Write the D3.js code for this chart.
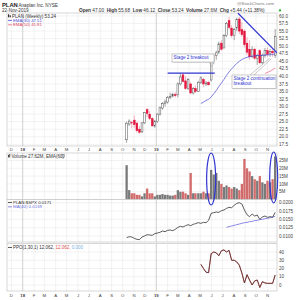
<!DOCTYPE html>
<html><head><meta charset="utf-8">
<script src="https://cdn.jsdelivr.net/npm/d3@7"></script>
<style>body{margin:0;background:#fff}svg{display:block;font-family:"Liberation Sans",Arial,sans-serif}</style>
</head><body><svg id="c" width="300" height="300"></svg>
<script>
// ---------- DATA ----------
const weekDates = ["2018-10-12","2018-10-19","2018-10-26","2018-11-02","2018-11-09","2018-11-16","2018-11-23","2018-11-30","2018-12-07","2018-12-14","2018-12-21","2018-12-28","2019-01-04","2019-01-11","2019-01-18","2019-01-25","2019-02-01","2019-02-08","2019-02-15","2019-02-22","2019-03-01","2019-03-08","2019-03-15","2019-03-22","2019-03-29","2019-04-05","2019-04-12","2019-04-18","2019-04-26","2019-05-03","2019-05-10","2019-05-17","2019-05-24","2019-05-31","2019-06-07","2019-06-14","2019-06-21","2019-06-28","2019-07-05","2019-07-12","2019-07-19","2019-07-26","2019-08-02","2019-08-09","2019-08-16","2019-08-23","2019-08-30","2019-09-06","2019-09-13","2019-09-20","2019-09-27","2019-10-04","2019-10-11","2019-10-18","2019-10-25","2019-11-01","2019-11-08","2019-11-15","2019-11-22"];
const opens  = [19.0,24.2,24.5,25.5,24.5,22.5,21.6,24.6,29.0,27.5,26.0,23.5,25.0,27.5,29.5,31.0,31.5,33.2,33.5,34.0,34.0,37.5,40.5,38.5,36.0,37.5,34.5,36.0,35.0,38.0,39.0,37.5,38.0,38.8,45.0,47.0,48.0,51.0,49.5,53.5,58.5,56.0,53.5,56.0,59.0,55.5,55.0,51.0,49.0,46.5,49.0,46.0,48.5,44.5,47.0,48.5,47.5,48.3,47.00];
const highs  = [25.0,25.8,25.2,27.0,25.0,23.5,24.8,28.2,29.5,28.5,26.5,25.5,27.8,30.0,31.5,32.3,33.5,34.6,34.6,34.8,38.0,41.0,41.2,40.0,39.5,38.0,36.5,37.0,38.5,40.0,39.5,38.5,38.5,45.5,47.5,48.5,51.5,52.0,54.0,58.0,59.7,57.0,56.0,59.5,59.7,58.0,55.5,53.0,52.0,50.0,49.5,47.5,49.0,47.5,49.4,49.5,49.0,49.0,55.68];
const lows   = [18.0,23.6,22.8,23.0,21.4,21.0,21.2,24.2,26.5,25.5,23.4,23.0,24.5,27.0,29.0,30.0,31.0,32.5,33.0,33.0,33.0,37.0,38.0,35.5,35.5,34.0,34.0,34.5,34.8,37.5,36.5,36.8,37.0,38.3,44.0,45.5,47.5,48.5,49.0,53.0,55.5,52.8,52.0,55.0,54.0,53.0,49.5,47.0,45.5,46.0,45.5,43.8,44.0,44.0,46.2,46.5,46.5,46.5,46.12];
const closes = [24.5,25.2,24.8,24.0,22.0,21.5,24.6,28.0,27.7,26.0,23.6,25.2,27.5,29.6,31.0,31.5,33.0,33.3,34.0,33.6,37.5,39.8,38.3,36.0,39.0,34.5,36.0,35.0,38.0,39.5,37.5,37.8,37.2,44.8,47.0,47.8,50.8,49.0,53.5,57.5,56.2,53.5,55.5,58.8,55.0,53.8,50.5,48.0,46.5,49.0,46.0,47.0,44.5,47.0,48.5,47.3,48.3,47.8,53.24];
const volumes = [22,6,4,4,3,3,2,4,7,4,4,2,3,3,3.5,3,3,2.5,2.5,3,6,5,5,4,3,17,4,4,4,4,5,4,4,19,16,17,12,10,8,9,8,7,8,7,6,10,26,20,18,15,13,12,15,11,10,12,11,13,27.62];
const ema30 = [null,null,null,null,null,null,null,null,null,null,null,null,null,null,null,null,null,null,null,null,null,null,null,null,null,null,null,null,null,31.0,31.5,32.0,32.4,33.2,34.2,35.3,36.6,37.8,39.0,40.3,41.5,42.5,43.4,44.3,45.0,45.6,46.0,46.3,46.5,46.7,46.8,46.9,46.9,47.0,47.1,47.1,47.2,47.2,47.51];
const ema50 = [null,null,null,null,null,null,null,null,null,null,null,null,null,null,null,null,null,null,null,null,null,null,null,null,null,null,null,null,null,null,null,null,null,null,null,null,null,null,null,null,null,null,null,null,null,null,null,null,null,null,null,null,null,null,41.0,41.3,41.7,42.2,42.8];
const rsValues = [0.0095,0.0098,0.0097,0.0093,0.0090,0.0089,0.0097,0.0100,0.0104,0.0103,0.0102,0.0107,0.0109,0.0111,0.0115,0.0113,0.0117,0.0118,0.0116,0.0120,0.0126,0.0129,0.0127,0.0131,0.0134,0.0131,0.0135,0.0137,0.0140,0.0138,0.0141,0.0140,0.0147,0.0168,0.0170,0.0172,0.0171,0.0176,0.0178,0.0183,0.0186,0.0185,0.0192,0.0198,0.0200,0.0196,0.0178,0.0164,0.0158,0.0166,0.0160,0.0163,0.0150,0.0157,0.0160,0.0156,0.0158,0.0156,0.0171];
const rsMA40 = [null,null,null,null,null,null,null,null,null,null,null,null,null,null,null,null,null,null,null,null,null,null,null,null,null,null,null,null,null,null,null,null,null,null,null,null,null,null,null,0.0126,0.0128,0.0130,0.0132,0.0134,0.0136,0.0138,0.0140,0.0141,0.0143,0.0144,0.0146,0.0147,0.0149,0.0150,0.0152,0.0153,0.0155,0.0157,0.0159];
const ppoValues = [null,null,null,null,null,null,null,null,null,null,null,null,null,null,null,null,null,null,null,null,null,null,null,null,null,null,null,null,null,25,20,15.5,15,38,40,39,35.5,41.5,42.5,40,42,30,30,28,24,14.5,2.5,12.5,6,0,5,6,-3,4,2.5,2,2,2,12.062];
const monthStarts = ["2017-12-01","2018-01-01","2018-02-01","2018-03-01","2018-04-01","2018-05-01","2018-06-01","2018-07-01","2018-08-01","2018-09-01","2018-10-01","2018-11-01","2018-12-01","2019-01-01","2019-02-01","2019-03-01","2019-04-01","2019-05-01","2019-06-01","2019-07-01","2019-08-01","2019-09-01","2019-10-01","2019-11-01"];
const monthLabels = ["D","18","F","M","A","M","J","J","A","S","O","N","D","19","F","M","A","M","J","J","A","S","O","N"];
const priceTicks = [17.5,20.0,22.5,25.0,27.5,30.0,32.5,35.0,37.5,40.0,42.5,45.0,47.5,50.0,52.5,55.0,57.5,60.0];
const volTicks = [5,10,15,20,25];
const volTickLabels = ["5M","10M","15M","20M","25M"];
const rsTicks = [0.0100,0.0125,0.0150,0.0175,0.0200];
const ppoTicks = [0,10,20,30,40];
const breakoutLine = {from:"2019-02-01", to:"2019-06-10", price:41.1};
const trendLine = {from:"2019-08-12", p1:61.0, to:"2019-11-27", p2:47.8};

// ---------- SETUP ----------
const parse = d3.timeParse("%Y-%m-%d");
const dates = weekDates.map(parse);
const svg = d3.select("#c");
const L = 7, R = 277;
const x = d3.scaleTime().domain([parse("2017-11-19"), parse("2019-11-27")]).range([L, R]);
const P = {top:13, bot:146}, V = {top:153, bot:199.5}, S = {top:199.5, bot:242}, Q = {top:243.5, bot:291};
const yP = d3.scaleLinear().domain([17.5,60]).range([144.3,16]);
const yV = d3.scaleLinear().domain([0,25]).range([199.5,160.5]);
const yS = d3.scaleLinear().domain([0.0100,0.0200]).range([236,202.7]);
const yQ = d3.scaleLinear().domain([0,40]).range([285,252]);
const FS = 4.6;
const blue = "#2f35d0", red = "#e3173e", gridC = "#e9e9e9";

function panel(p, ticks, yScale, fmt) {
  const g = svg.append("g");
  g.append("rect").attr("x",L).attr("y",p.top).attr("width",R-L).attr("height",p.bot-p.top).attr("fill","#fff");
  ticks.forEach(t => {
    const yy = yScale(t);
    if (yy > p.top && yy < p.bot) g.append("line").attr("x1",L).attr("x2",R).attr("y1",yy).attr("y2",yy).attr("stroke",gridC).attr("stroke-width",0.6);
  });
  monthStarts.forEach((m,i) => {
    const xx = x(parse(m));
    const isJan = monthLabels[i].length > 1;
    g.append("line").attr("x1",xx).attr("x2",xx).attr("y1",p.top).attr("y2",p.bot).attr("stroke",isJan?"#c9c9c9":gridC).attr("stroke-width",isJan?0.9:0.6);
  });
  g.append("rect").attr("x",L).attr("y",p.top).attr("width",R-L).attr("height",p.bot-p.top).attr("fill","none").attr("stroke","#bdbdbd").attr("stroke-width",0.6);
  ticks.forEach((t,i) => {
    const yy = yScale(t);
    if (yy > p.top - 1 && yy < p.bot + 1)
      svg.append("text").attr("x",R+2).attr("y",yy).attr("dy","0.35em").attr("font-size",FS).attr("fill","#444").text(fmt(t,i));
  });
  return g;
}

const defs = svg.append("defs");
[["cp",P],["cv",V],["cs",S],["cq",Q]].forEach(([id,p]) => {
  defs.append("clipPath").attr("id",id).append("rect").attr("x",L).attr("y",p.top).attr("width",R-L).attr("height",p.bot-p.top);
});

// ---------- HEADER ----------
svg.append("text").attr("x",2).attr("y",6.5).attr("font-size",5.8).attr("font-weight","bold").attr("fill","#222").text("PLAN");
svg.append("text").attr("x",18.5).attr("y",6.5).attr("font-size",4.6).attr("fill","#333").text("Anaplan Inc.  NYSE");
svg.append("text").attr("x",2).attr("y",11.6).attr("font-size",4.6).attr("fill","#333").text("22-Nov-2019");
svg.append("text").attr("x",237).attr("y",4.6).attr("font-size",4.3).attr("fill","#777").text("@StockCharts.com");
const hdr = svg.append("text").attr("x",79).attr("y",11.6).attr("font-size",4.7).attr("fill","#333");
[["Open",true],[" 47.00  ",false],["High",true],[" 55.68  ",false],["Low",true],[" 46.12  ",false],["Close",true],[" 53.24  ",false],["Volume",true],[" 27.6M  ",false],["Chg",true],[" +5.44 (+11.38%)",false]].forEach(([t,b]) => {
  hdr.append("tspan").attr("font-weight",b?"bold":"normal").attr("xml:space","preserve").text(t);
});
svg.append("path").attr("d","M278.5,11.2 l1.5,-2.6 l1.5,2.6 z").attr("fill","#2a2");

// ---------- PRICE PANEL ----------
panel(P, priceTicks, yP, t => t.toFixed(1));
const gp = svg.append("g").attr("clip-path","url(#cp)");
const cw = 1.8;
dates.forEach((d,i) => {
  const up = i === 0 ? true : closes[i] >= closes[i-1];
  const col = up ? "#555" : red;
  const cx = x(d);
  gp.append("line").attr("x1",cx).attr("x2",cx).attr("y1",yP(highs[i])).attr("y2",yP(lows[i])).attr("stroke",up?"#666":"#f07a94").attr("stroke-width",0.6);
  const top = yP(Math.max(opens[i],closes[i])), bot = yP(Math.min(opens[i],closes[i]));
  const hollow = closes[i] >= opens[i];
  gp.append("rect").attr("x",cx-cw/2).attr("y",top).attr("width",cw).attr("height",Math.max(0.6,bot-top))
    .attr("fill",hollow?"#fff":col).attr("stroke",col).attr("stroke-width",0.5);
});
gp.append("path").attr("d",d3.line().defined(v=>v!=null).x((v,i)=>x(dates[i])).y(v=>yP(v))(ema30)).attr("fill","none").attr("stroke","#4a4ad8").attr("stroke-width",0.7);
gp.append("path").attr("d",d3.line().defined(v=>v!=null).x((v,i)=>x(dates[i])).y(v=>yP(v))(ema50)).attr("fill","none").attr("stroke","#f06080").attr("stroke-width",0.7);
gp.append("line").attr("x1",x(parse(breakoutLine.from))).attr("x2",x(parse(breakoutLine.to))).attr("y1",yP(breakoutLine.price)).attr("y2",yP(breakoutLine.price)).attr("stroke",blue).attr("stroke-width",1.2);
gp.append("line").attr("x1",x(parse(trendLine.from))).attr("y1",yP(trendLine.p1)).attr("x2",x(parse(trendLine.to))).attr("y2",yP(trendLine.p2)).attr("stroke",blue).attr("stroke-width",1.2);
function box(x0,y0,w,h,lines){
  svg.append("rect").attr("x",x0+0.8).attr("y",y0+0.8).attr("width",w).attr("height",h).attr("fill","#ddd");
  svg.append("rect").attr("x",x0).attr("y",y0).attr("width",w).attr("height",h).attr("fill","#fff").attr("stroke","#999").attr("stroke-width",0.5);
  lines.forEach((t,i)=>svg.append("text").attr("x",x0+1.5).attr("y",y0+5+i*5).attr("font-size",4.6).attr("fill",blue).text(t));
}
svg.append("line").attr("x1",209).attr("y1",62).attr("x2",212).attr("y2",67).attr("stroke","#999").attr("stroke-width",0.5);
svg.append("line").attr("x1",250).attr("y1",75).attr("x2",270).attr("y2",58).attr("stroke","#999").attr("stroke-width",0.5);
svg.append("line").attr("x1",254).attr("y1",75).attr("x2",271).attr("y2",59).attr("stroke","#999").attr("stroke-width",0.5);
box(172,54,42,8,["Stage 2 breakout"]);
box(232,75,44,13.5,["Stage 2 continuation","breakout"]);
svg.append("rect").attr("x",8).attr("y",14.3).attr("width",1.2).attr("height",3).attr("fill","#333");
svg.append("rect").attr("x",9.6).attr("y",15.3).attr("width",1.2).attr("height",2).attr("fill","#333");
svg.append("text").attr("x",12).attr("y",17.6).attr("font-size",4.6).attr("fill","#333").text("PLAN (Weekly) 53.24");
svg.append("line").attr("x1",8).attr("x2",12).attr("y1",20.4).attr("y2",20.4).attr("stroke","#4a4ad8").attr("stroke-width",0.8);
svg.append("text").attr("x",13).attr("y",22).attr("font-size",4.3).attr("fill","#4a4ad8").text("EMA(30) 47.51");
svg.append("line").attr("x1",8).attr("x2",12).attr("y1",24.8).attr("y2",24.8).attr("stroke","#f06080").attr("stroke-width",0.8);
svg.append("text").attr("x",13).attr("y",26.4).attr("font-size",4.3).attr("fill","#e04060").text("EMA(50) 45.81");

function xLabels(yy){
  monthStarts.forEach((m,i)=>{
    const isJan = monthLabels[i].length>1;
    svg.append("text").attr("x",x(parse(m))).attr("y",yy).attr("text-anchor","middle").attr("font-size",4.3).attr("font-weight",isJan?"bold":"normal").attr("fill","#444").text(monthLabels[i]);
  });
}
xLabels(151);

// ---------- VOLUME ----------
panel(V, volTicks, yV, (t,i) => volTickLabels[i]);
const gv = svg.append("g").attr("clip-path","url(#cv)");
dates.forEach((d,i)=>{
  const up = i===0 ? true : closes[i] >= closes[i-1];
  gv.append("rect").attr("x",x(d)-1.15).attr("y",yV(volumes[i])).attr("width",2.3).attr("height",yV(0)-yV(volumes[i])).attr("fill",up?"#7a7a7a":"#d26b6b");
});
svg.append("rect").attr("x",8).attr("y",154.8).attr("width",0.9).attr("height",2.6).attr("fill","#333");
svg.append("rect").attr("x",9.3).attr("y",154).attr("width",0.9).attr("height",3.4).attr("fill","#333");
svg.append("text").attr("x",11.5).attr("y",157.5).attr("font-size",4.6).attr("fill","#333").text("Volume 27.62M, EMA(60)");
svg.append("rect").attr("x",62).attr("y",154.6).attr("width",2.6).attr("height",2.6).attr("fill","none").attr("stroke","#555").attr("stroke-width",0.4);

// ---------- RS ----------
panel(S, rsTicks, yS, t => t.toFixed(4));
const gs = svg.append("g").attr("clip-path","url(#cs)");
gs.append("path").attr("d",d3.line().defined(v=>v!=null).x((v,i)=>x(dates[i])).y(v=>yS(v))(rsMA40)).attr("fill","none").attr("stroke","#6c6ce0").attr("stroke-width",0.8);
gs.append("path").attr("d",d3.line().x((v,i)=>x(dates[i])).y(v=>yS(v))(rsValues)).attr("fill","none").attr("stroke","#333").attr("stroke-width",0.8);
svg.append("line").attr("x1",8).attr("x2",12).attr("y1",202.5).attr("y2",202.5).attr("stroke","#333").attr("stroke-width",0.8);
svg.append("text").attr("x",13).attr("y",204).attr("font-size",4.4).attr("fill","#333").text("PLAN:$SPX 0.0171");
svg.append("line").attr("x1",8).attr("x2",12).attr("y1",206.8).attr("y2",206.8).attr("stroke","#6c6ce0").attr("stroke-width",0.8);
svg.append("text").attr("x",13).attr("y",208.3).attr("font-size",4.4).attr("fill","#6c6ce0").text("MA(40) 0.0159");

// ---------- PPO ----------
panel(Q, ppoTicks, yQ, t => String(t));
const gq = svg.append("g").attr("clip-path","url(#cq)");
gq.append("path").attr("d",d3.line().defined(v=>v!=null).x((v,i)=>x(dates[i])).y(v=>yQ(v))(ppoValues)).attr("fill","none").attr("stroke","#e05050").attr("stroke-width",1);
gq.append("path").attr("d",d3.line().defined(v=>v!=null).x((v,i)=>x(dates[i])).y(v=>yQ(v))(ppoValues)).attr("fill","none").attr("stroke","#333").attr("stroke-width",0.7);
svg.append("line").attr("x1",8).attr("x2",12).attr("y1",247.5).attr("y2",247.5).attr("stroke","#333").attr("stroke-width",0.8);
const pl = svg.append("text").attr("x",13).attr("y",249).attr("font-size",4.5).attr("fill","#333");
pl.append("tspan").text("PPO(1,30,1) 12.062, ");
pl.append("tspan").attr("fill","#e05050").text("12.062, ");
pl.append("tspan").attr("fill","#7ab0e0").text("0.000");

xLabels(297);

svg.append("ellipse").attr("cx",x(parse(weekDates[33]))).attr("cy",179).attr("rx",4.5).attr("ry",26).attr("fill","none").attr("stroke",blue).attr("stroke-width",1.2);
svg.append("ellipse").attr("cx",x(parse(weekDates[58]))-1.5).attr("cy",177.5).attr("rx",4).attr("ry",25.5).attr("fill","none").attr("stroke",blue).attr("stroke-width",1.2);
</script></body></html>
